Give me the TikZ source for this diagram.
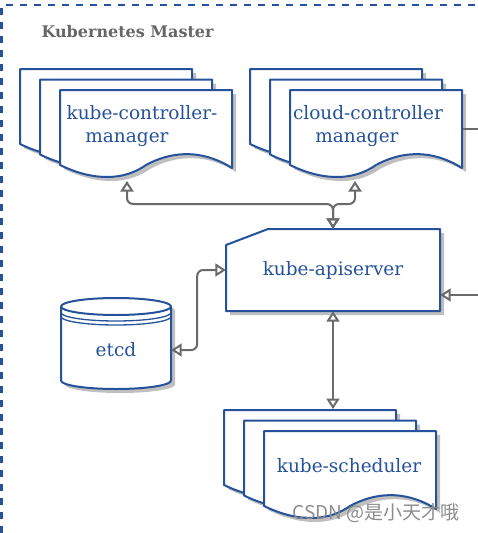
\documentclass[tikz,border=0pt]{standalone}
\usepackage{fontspec}
\setmainfont{DejaVu Serif}
\newfontfamily\cjkfont{Noto Sans CJK SC}
\usetikzlibrary{arrows.meta}
\definecolor{kblue}{HTML}{25529A}
\definecolor{kgray}{HTML}{6A6A6A}
\definecolor{ktitle}{HTML}{666666}

% hoja con borde ondulado (esquina superior izquierda en el origen)
\newcommand\docpath{(0,0) -- (172,0) -- (172,78) .. controls (140,58) and (110,62) .. (86,75) .. controls (65,90) and (35,92) .. (0,75) -- cycle}

\tikzset{
  pics/docstack/.style={code={
    \foreach \dx/\dy in {-40/-21, -20/-10.5, 0/0} {
      \fill[dropshade, shift={(\dx+4,\dy+4)}] \docpath;
      \draw[sheet, shift={(\dx,\dy)}] \docpath;
    }
  }}
}

\begin{document}
\begin{tikzpicture}[x=1pt, y=-1pt,
  sheet/.style={draw=kblue, line width=2pt, fill=white, line join=round},
  dropshade/.style={fill=black!25},
  conn/.style={draw=kgray, line width=2pt, rounded corners=6pt},
  lbl/.style={text=kblue, font=\fontsize{18.5}{23}\selectfont, align=center, inner sep=0pt},
  >={Triangle[open, length=10.5pt, width=13pt]}]
\useasboundingbox (0,0) rectangle (478,533);

% Marco punteado
\draw[kblue, line width=2.8pt, dash pattern=on 7pt off 7pt] (1.5,533) -- (1.5,5) -- (478,5);
\node[anchor=west, text=ktitle, font=\bfseries\fontsize{16}{18}\selectfont] (title) at (38,32) {Kubernetes Master};

% Pilas de documentos
\pic at (60,90) {docstack};
\pic at (290,90) {docstack};
\pic at (264,431) {docstack};

% kube-apiserver
\fill[dropshade, shift={(4,4)}] (268,229) -- (440,229) -- (440,311) -- (226,311) -- (226,245) -- cycle;
\draw[sheet] (268,229) -- (440,229) -- (440,311) -- (226,311) -- (226,245) -- cycle;

% etcd
\fill[dropshade, shift={(4,4)}] (61,306.5) -- (61,380.5) arc[start angle=180, end angle=0, x radius=55, y radius=8.5] -- (171,306.5) arc[start angle=0, end angle=-180, x radius=55, y radius=8.5] -- cycle;
\draw[sheet] (61,306.5) -- (61,380.5) arc[start angle=180, end angle=0, x radius=55, y radius=8.5] -- (171,306.5) arc[start angle=0, end angle=-180, x radius=55, y radius=8.5] -- cycle;
\draw[sheet, fill=none] (61,306.5) arc[start angle=180, end angle=0, x radius=55, y radius=8.5];
\draw[sheet, fill=none, line width=1.3pt] (61,312.5) arc[start angle=180, end angle=0, x radius=55, y radius=8.5];
\draw[sheet, fill=none, line width=1.3pt] (61,316.5) arc[start angle=180, end angle=0, x radius=55, y radius=8.5];

% Textos
\node[lbl] (kcm) at (142,126) {kube-controller-\\manager\hspace*{30pt}};
\node[lbl] (ccm) at (368,126) {cloud-controller\\manager\hspace*{22pt}};
\node[lbl, minimum width=214pt, minimum height=82pt] (api) at (333,270) {kube-apiserver};
\node[lbl, minimum width=110pt] (etcd) at (116,350) {etcd};
\node[lbl] (sched) at (349,466) {kube-scheduler};

% Puntos de conexion
\coordinate (kcm-port) at (127,181);
\coordinate (ccm-port) at (355,181);
\coordinate (hub) at (333,204);
\coordinate (sched-port) at (333,409);
\coordinate (ccm-link) at (463,129);
\coordinate (east-out) at (478,129);
\coordinate (east-in) at (478,295);

% Conectores
\draw[conn, <->] (kcm-port) |- (hub) -- (api.north);
\draw[conn, <->] (ccm-port) |- (hub) -- (api.north);
\draw[conn, <->] (etcd.east) -- ++(26,0) |- (api.west);
\draw[conn, <->] (api.south) -- (sched-port);
\draw[conn, ->] (east-in) -- ([yshift=-25pt]api.east);
\draw[conn] (ccm-link) -- (east-out);

\node[text=black!45, font=\cjkfont\fontsize{19}{22}\selectfont] (mark) at (376,513) {CSDN @是小天才哦};
\end{tikzpicture}
\end{document}
